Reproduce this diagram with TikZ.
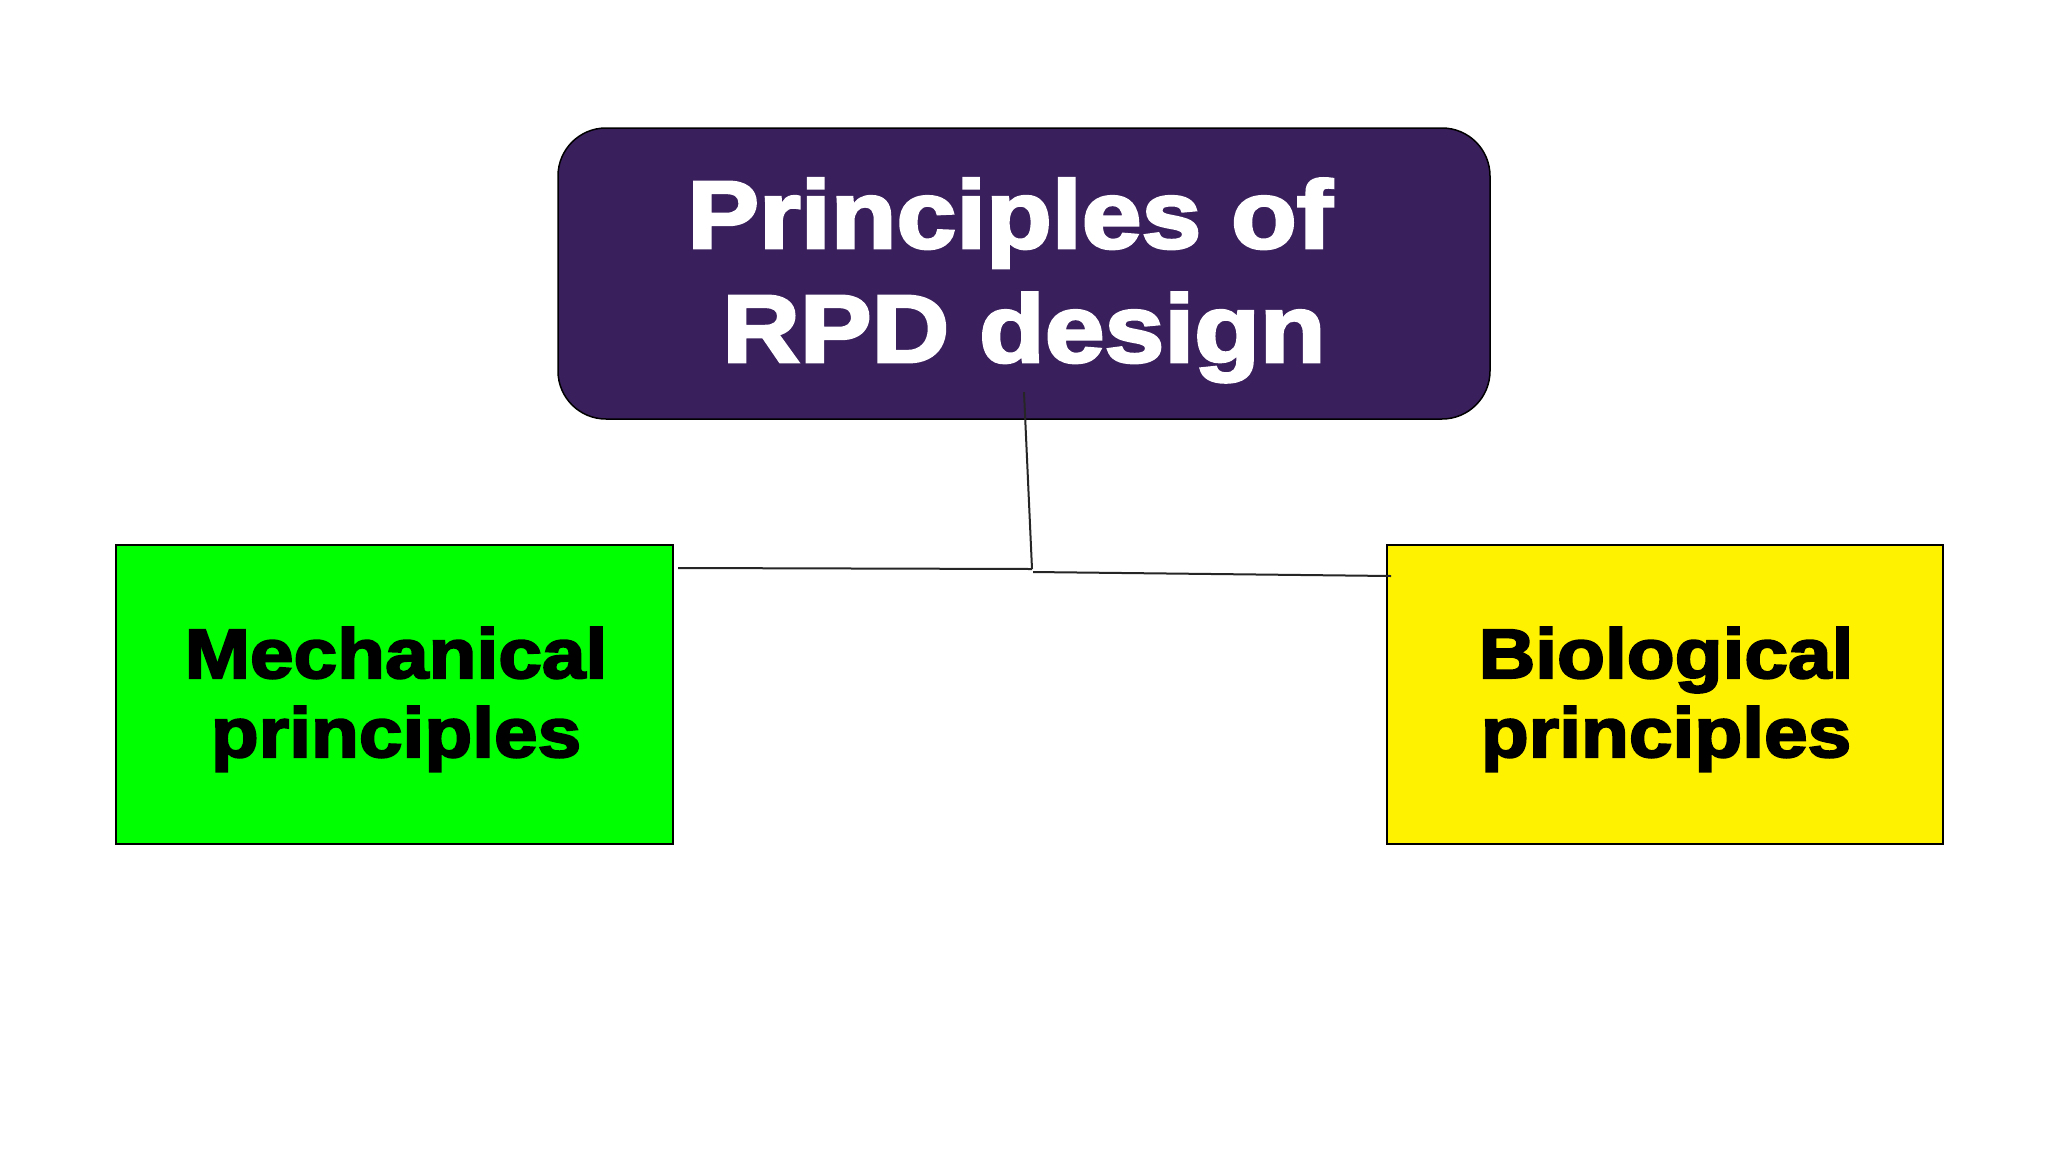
\documentclass[tikz,border=0pt]{standalone}
\usepackage{fontspec}
\setmainfont{Liberation Sans}[BoldFeatures={FakeStretch=1.12,FakeBold=3}]
\usetikzlibrary{calc}
\definecolor{titlepurple}{HTML}{3A1F5D}
\begin{document}
\begin{tikzpicture}[x=1pt,y=-1pt,
  boxline/.style={draw=black,line width=1.5pt},
  conn/.style={draw=black!85,line width=2pt},
  bigtext/.style={text=white,font=\fontsize{96}{114}\selectfont\bfseries,anchor=base,inner sep=0pt},
  smalltext/.style={text=black,font=\fontsize{70}{79}\selectfont\bfseries,anchor=base,inner sep=0pt}]
\useasboundingbox[fill=white] (0,0) rectangle (2048,1152);
% boxes
\node[boxline,fill=titlepurple,rounded corners=48pt,minimum width=932pt,minimum height=291pt,inner sep=0pt] (title) at (1024,273.5) {};
\node[boxline,fill=green,minimum width=557pt,minimum height=299pt,inner sep=0pt] (mech) at (394.5,694.5) {};
\node[boxline,fill=yellow,minimum width=556pt,minimum height=299pt,inner sep=0pt] (bio) at (1665,694.5) {};
% texts
\node[bigtext] (t1) at (1010,248) {Principles of};
\node[bigtext] (t2) at (1024,362) {RPD design};
\node[smalltext] (m1) at (396,678) {Mechanical};
\node[smalltext] (m2) at (396,757) {principles};
\node[smalltext] (b1) at (1666,678) {Biological};
\node[smalltext] (b2) at (1666,757) {principles};
% connectors
\coordinate (vtop) at (1024,392);
\coordinate (joint) at (1032,569);
\coordinate (lend) at (678,568);
\coordinate (rstart) at (1033,572);
\coordinate (rend) at (1391,576);
\draw[conn] (vtop) -- (joint);
\draw[conn] (lend) -- (joint);
\draw[conn] (rstart) -- (rend);
\end{tikzpicture}
\end{document}
